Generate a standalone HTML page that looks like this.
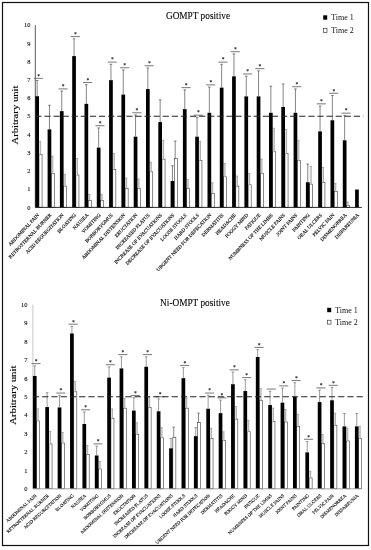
<!DOCTYPE html>
<html><head><meta charset="utf-8"><title>Figure</title>
<style>html,body{margin:0;padding:0;background:#fff}svg{display:block}text{font-family:"Liberation Serif",serif}</style>
</head><body>
<svg width="371" height="550" viewBox="0 0 371 550">
<rect x="0" y="0" width="371" height="550" fill="#fff"/>
<rect x="2.5" y="2.5" width="366" height="543" fill="none" stroke="#111" stroke-width="1.2"/>
<g>
<text x="30.6" y="209.6" font-size="6.5" text-anchor="end" fill="#000" stroke="#000" stroke-width="0.08">0</text>
<text x="30.6" y="191.37" font-size="6.5" text-anchor="end" fill="#000" stroke="#000" stroke-width="0.08">1</text>
<text x="30.6" y="173.14" font-size="6.5" text-anchor="end" fill="#000" stroke="#000" stroke-width="0.08">2</text>
<text x="30.6" y="154.91" font-size="6.5" text-anchor="end" fill="#000" stroke="#000" stroke-width="0.08">3</text>
<text x="30.6" y="136.68" font-size="6.5" text-anchor="end" fill="#000" stroke="#000" stroke-width="0.08">4</text>
<text x="30.6" y="118.45" font-size="6.5" text-anchor="end" fill="#000" stroke="#000" stroke-width="0.08">5</text>
<text x="30.6" y="100.22" font-size="6.5" text-anchor="end" fill="#000" stroke="#000" stroke-width="0.08">6</text>
<text x="30.6" y="81.99" font-size="6.5" text-anchor="end" fill="#000" stroke="#000" stroke-width="0.08">7</text>
<text x="30.6" y="63.76" font-size="6.5" text-anchor="end" fill="#000" stroke="#000" stroke-width="0.08">8</text>
<text x="30.6" y="45.53" font-size="6.5" text-anchor="end" fill="#000" stroke="#000" stroke-width="0.08">9</text>
<text x="30.6" y="27.3" font-size="6.5" text-anchor="end" fill="#000" stroke="#000" stroke-width="0.08">10</text>
<text transform="translate(18.3 115) rotate(-90) scale(1.19 1)" font-size="9" text-anchor="middle" fill="#000" stroke="#000" stroke-width="0.12">Arbitrary unit</text>
<text x="198" y="19.2" font-size="9.3" text-anchor="middle" fill="#000" stroke="#000" stroke-width="0.08">GOMPT positive</text>
<rect x="323.2" y="15.3" width="4" height="4.4" fill="#000"/>
<text x="331.2" y="20.1" font-size="8" fill="#111">Time 1</text>
<rect x="323.5" y="28.4" width="3.5" height="3.9" fill="#fff" stroke="#222" stroke-width="0.6"/>
<text x="331.2" y="33" font-size="8" fill="#111">Time 2</text>
<line x1="35.3" y1="25.1" x2="35.3" y2="207.4" stroke="#333" stroke-width="0.8"/>
<rect x="39" y="154.35" width="3.05" height="53.05" fill="#fff" stroke="#2a2a2a" stroke-width="0.55"/>
<rect x="39.1" y="141.59" width="1.6" height="12.76" fill="#dadada"/>
<path d="M40.6 154.35V141.59M38.8 141.59H41.4" stroke="#777" stroke-width="0.5" fill="none"/>
<rect x="35.3" y="96.2" width="3.7" height="111.2" fill="#000"/>
<path d="M37.15 96.2V80.53M35.85 80.53H38.45" stroke="#505050" stroke-width="0.7" fill="none"/>
<line x1="33.9" y1="78.33" x2="43" y2="78.33" stroke="#555" stroke-width="0.8"/>
<text x="38.6" y="77.63" font-size="5.6" text-anchor="middle" fill="#111" font-weight="bold">*</text>
<rect x="51.3" y="173.67" width="3.05" height="33.73" fill="#fff" stroke="#2a2a2a" stroke-width="0.55"/>
<rect x="51.4" y="156.17" width="1.6" height="17.5" fill="#dadada"/>
<path d="M52.9 173.67V156.17M51.1 156.17H53.7" stroke="#777" stroke-width="0.5" fill="none"/>
<rect x="47.6" y="129.38" width="3.7" height="78.02" fill="#000"/>
<path d="M49.45 129.38V105.31M48.15 105.31H50.75" stroke="#505050" stroke-width="0.7" fill="none"/>
<rect x="63.6" y="186.07" width="3.05" height="21.33" fill="#fff" stroke="#2a2a2a" stroke-width="0.55"/>
<rect x="63.7" y="174.4" width="1.6" height="11.67" fill="#dadada"/>
<path d="M65.2 186.07V174.4M63.4 174.4H66" stroke="#777" stroke-width="0.5" fill="none"/>
<rect x="59.9" y="111.15" width="3.7" height="96.25" fill="#000"/>
<path d="M61.75 111.15V91.11M60.45 91.11H63.05" stroke="#505050" stroke-width="0.7" fill="none"/>
<line x1="58.5" y1="88.91" x2="67.6" y2="88.91" stroke="#555" stroke-width="0.8"/>
<text x="63.2" y="88.2" font-size="5.6" text-anchor="middle" fill="#111" font-weight="bold">*</text>
<rect x="75.9" y="174.95" width="3.05" height="32.45" fill="#fff" stroke="#2a2a2a" stroke-width="0.55"/>
<rect x="76" y="158.54" width="1.6" height="16.41" fill="#dadada"/>
<path d="M77.5 174.95V158.54M75.7 158.54H78.3" stroke="#777" stroke-width="0.5" fill="none"/>
<rect x="72.2" y="56.09" width="3.7" height="151.31" fill="#000"/>
<path d="M74.05 56.09V38.78M72.75 38.78H75.35" stroke="#505050" stroke-width="0.7" fill="none"/>
<line x1="70.8" y1="36.58" x2="79.9" y2="36.58" stroke="#555" stroke-width="0.8"/>
<text x="75.5" y="35.88" font-size="5.6" text-anchor="middle" fill="#111" font-weight="bold">*</text>
<rect x="88.2" y="200.29" width="3.05" height="7.11" fill="#fff" stroke="#2a2a2a" stroke-width="0.55"/>
<rect x="88.3" y="194.46" width="1.6" height="5.83" fill="#dadada"/>
<path d="M89.8 200.29V194.46M88 194.46H90.6" stroke="#777" stroke-width="0.5" fill="none"/>
<rect x="84.5" y="103.85" width="3.7" height="103.55" fill="#000"/>
<path d="M86.35 103.85V84.72M85.05 84.72H87.65" stroke="#505050" stroke-width="0.7" fill="none"/>
<line x1="83.1" y1="82.52" x2="92.2" y2="82.52" stroke="#555" stroke-width="0.8"/>
<text x="87.8" y="81.82" font-size="5.6" text-anchor="middle" fill="#111" font-weight="bold">*</text>
<rect x="100.5" y="200.29" width="3.05" height="7.11" fill="#fff" stroke="#2a2a2a" stroke-width="0.55"/>
<rect x="100.6" y="194.46" width="1.6" height="5.83" fill="#dadada"/>
<path d="M102.1 200.29V194.46M100.3 194.46H102.9" stroke="#777" stroke-width="0.5" fill="none"/>
<rect x="96.8" y="147.61" width="3.7" height="59.79" fill="#000"/>
<path d="M98.65 147.61V127.93M97.35 127.93H99.95" stroke="#505050" stroke-width="0.7" fill="none"/>
<line x1="95.4" y1="125.73" x2="104.5" y2="125.73" stroke="#555" stroke-width="0.8"/>
<text x="100.1" y="125.03" font-size="5.6" text-anchor="middle" fill="#111" font-weight="bold">*</text>
<rect x="112.8" y="169.48" width="3.05" height="37.92" fill="#fff" stroke="#2a2a2a" stroke-width="0.55"/>
<rect x="112.9" y="153.62" width="1.6" height="15.86" fill="#dadada"/>
<path d="M114.4 169.48V153.62M112.6 153.62H115.2" stroke="#777" stroke-width="0.5" fill="none"/>
<rect x="109.1" y="80.15" width="3.7" height="127.25" fill="#000"/>
<path d="M110.95 80.15V64.31M109.65 64.31H112.25" stroke="#505050" stroke-width="0.7" fill="none"/>
<line x1="107.7" y1="62.11" x2="116.8" y2="62.11" stroke="#555" stroke-width="0.8"/>
<text x="112.4" y="61.41" font-size="5.6" text-anchor="middle" fill="#111" font-weight="bold">*</text>
<rect x="125.1" y="188.26" width="3.05" height="19.14" fill="#fff" stroke="#2a2a2a" stroke-width="0.55"/>
<rect x="125.2" y="178.05" width="1.6" height="10.21" fill="#dadada"/>
<path d="M126.7 188.26V178.05M124.9 178.05H127.5" stroke="#777" stroke-width="0.5" fill="none"/>
<rect x="121.4" y="94.56" width="3.7" height="112.84" fill="#000"/>
<path d="M123.25 94.56V69.96M121.95 69.96H124.55" stroke="#505050" stroke-width="0.7" fill="none"/>
<line x1="120" y1="67.76" x2="129.1" y2="67.76" stroke="#555" stroke-width="0.8"/>
<text x="124.7" y="67.06" font-size="5.6" text-anchor="middle" fill="#111" font-weight="bold">*</text>
<rect x="137.4" y="188.26" width="3.05" height="19.14" fill="#fff" stroke="#2a2a2a" stroke-width="0.55"/>
<rect x="137.5" y="179.14" width="1.6" height="9.12" fill="#dadada"/>
<path d="M139 188.26V179.14M137.2 179.14H139.8" stroke="#777" stroke-width="0.5" fill="none"/>
<rect x="133.7" y="136.67" width="3.7" height="70.73" fill="#000"/>
<path d="M135.55 136.67V114.99M134.25 114.99H136.85" stroke="#505050" stroke-width="0.7" fill="none"/>
<line x1="132.3" y1="112.79" x2="141.4" y2="112.79" stroke="#555" stroke-width="0.8"/>
<text x="137" y="112.09" font-size="5.6" text-anchor="middle" fill="#111" font-weight="bold">*</text>
<rect x="149.7" y="171.85" width="3.05" height="35.55" fill="#fff" stroke="#2a2a2a" stroke-width="0.55"/>
<rect x="149.8" y="162.19" width="1.6" height="9.66" fill="#dadada"/>
<path d="M151.3 171.85V162.19M149.5 162.19H152.1" stroke="#777" stroke-width="0.5" fill="none"/>
<rect x="146" y="89.09" width="3.7" height="118.31" fill="#000"/>
<path d="M147.85 89.09V67.95M146.55 67.95H149.15" stroke="#505050" stroke-width="0.7" fill="none"/>
<line x1="144.6" y1="65.75" x2="153.7" y2="65.75" stroke="#555" stroke-width="0.8"/>
<text x="149.3" y="65.05" font-size="5.6" text-anchor="middle" fill="#111" font-weight="bold">*</text>
<rect x="162" y="159.09" width="3.05" height="48.31" fill="#fff" stroke="#2a2a2a" stroke-width="0.55"/>
<rect x="162.1" y="140.31" width="1.6" height="18.78" fill="#dadada"/>
<path d="M163.6 159.09V140.31M161.8 140.31H164.4" stroke="#777" stroke-width="0.5" fill="none"/>
<rect x="158.3" y="122.08" width="3.7" height="85.32" fill="#000"/>
<path d="M160.15 122.08V99.84M158.85 99.84H161.45" stroke="#505050" stroke-width="0.7" fill="none"/>
<rect x="174.3" y="158.54" width="3.05" height="48.86" fill="#fff" stroke="#2a2a2a" stroke-width="0.55"/>
<path d="M175.2 158.54V141.04M173.9 141.04H176.5" stroke="#555" stroke-width="0.7" fill="none"/>
<rect x="170.6" y="180.97" width="3.7" height="26.43" fill="#000"/>
<path d="M172.45 180.97V165.84M171.15 165.84H173.75" stroke="#505050" stroke-width="0.7" fill="none"/>
<rect x="186.6" y="188.26" width="3.05" height="19.14" fill="#fff" stroke="#2a2a2a" stroke-width="0.55"/>
<rect x="186.7" y="179.69" width="1.6" height="8.57" fill="#dadada"/>
<path d="M188.2 188.26V179.69M186.4 179.69H189" stroke="#777" stroke-width="0.5" fill="none"/>
<rect x="182.9" y="109.14" width="3.7" height="98.26" fill="#000"/>
<path d="M184.75 109.14V89.83M183.45 89.83H186.05" stroke="#505050" stroke-width="0.7" fill="none"/>
<line x1="181.5" y1="87.63" x2="190.6" y2="87.63" stroke="#555" stroke-width="0.8"/>
<text x="186.2" y="86.93" font-size="5.6" text-anchor="middle" fill="#111" font-weight="bold">*</text>
<rect x="198.9" y="160.55" width="3.05" height="46.85" fill="#fff" stroke="#2a2a2a" stroke-width="0.55"/>
<rect x="199" y="141.59" width="1.6" height="18.96" fill="#dadada"/>
<path d="M200.5 160.55V141.59M198.7 141.59H201.3" stroke="#777" stroke-width="0.5" fill="none"/>
<rect x="195.2" y="136.67" width="3.7" height="70.73" fill="#000"/>
<path d="M197.05 136.67V117.36M195.75 117.36H198.35" stroke="#505050" stroke-width="0.7" fill="none"/>
<line x1="193.8" y1="115.16" x2="202.9" y2="115.16" stroke="#555" stroke-width="0.8"/>
<text x="198.5" y="114.46" font-size="5.6" text-anchor="middle" fill="#111" font-weight="bold">*</text>
<rect x="211.2" y="193.36" width="3.05" height="14.04" fill="#fff" stroke="#2a2a2a" stroke-width="0.55"/>
<rect x="211.3" y="182.79" width="1.6" height="10.57" fill="#dadada"/>
<path d="M212.8 193.36V182.79M211 182.79H213.6" stroke="#777" stroke-width="0.5" fill="none"/>
<rect x="207.5" y="112.79" width="3.7" height="94.61" fill="#000"/>
<path d="M209.35 112.79V87.09M208.05 87.09H210.65" stroke="#505050" stroke-width="0.7" fill="none"/>
<line x1="206.1" y1="84.89" x2="215.2" y2="84.89" stroke="#555" stroke-width="0.8"/>
<text x="210.8" y="84.19" font-size="5.6" text-anchor="middle" fill="#111" font-weight="bold">*</text>
<rect x="223.5" y="176.77" width="3.05" height="30.63" fill="#fff" stroke="#2a2a2a" stroke-width="0.55"/>
<rect x="223.6" y="163.47" width="1.6" height="13.31" fill="#dadada"/>
<path d="M225.1 176.77V163.47M223.3 163.47H225.9" stroke="#777" stroke-width="0.5" fill="none"/>
<rect x="219.8" y="87.63" width="3.7" height="119.77" fill="#000"/>
<path d="M221.65 87.63V64.31M220.35 64.31H222.95" stroke="#505050" stroke-width="0.7" fill="none"/>
<line x1="218.4" y1="62.11" x2="227.5" y2="62.11" stroke="#555" stroke-width="0.8"/>
<text x="223.1" y="61.41" font-size="5.6" text-anchor="middle" fill="#111" font-weight="bold">*</text>
<rect x="235.8" y="186.07" width="3.05" height="21.33" fill="#fff" stroke="#2a2a2a" stroke-width="0.55"/>
<rect x="235.9" y="176.04" width="1.6" height="10.03" fill="#dadada"/>
<path d="M237.4 186.07V176.04M235.6 176.04H238.2" stroke="#777" stroke-width="0.5" fill="none"/>
<rect x="232.1" y="76.33" width="3.7" height="131.07" fill="#000"/>
<path d="M233.95 76.33V53.92M232.65 53.92H235.25" stroke="#505050" stroke-width="0.7" fill="none"/>
<line x1="230.7" y1="51.72" x2="239.8" y2="51.72" stroke="#555" stroke-width="0.8"/>
<text x="235.4" y="51.02" font-size="5.6" text-anchor="middle" fill="#111" font-weight="bold">*</text>
<rect x="248.1" y="184.79" width="3.05" height="22.61" fill="#fff" stroke="#2a2a2a" stroke-width="0.55"/>
<rect x="248.2" y="173.67" width="1.6" height="11.12" fill="#dadada"/>
<path d="M249.7 184.79V173.67M247.9 173.67H250.5" stroke="#777" stroke-width="0.5" fill="none"/>
<rect x="244.4" y="96.38" width="3.7" height="111.02" fill="#000"/>
<path d="M246.25 96.38V76.16M244.95 76.16H247.55" stroke="#505050" stroke-width="0.7" fill="none"/>
<line x1="243" y1="73.96" x2="252.1" y2="73.96" stroke="#555" stroke-width="0.8"/>
<text x="247.7" y="73.26" font-size="5.6" text-anchor="middle" fill="#111" font-weight="bold">*</text>
<rect x="260.4" y="173.67" width="3.05" height="33.73" fill="#fff" stroke="#2a2a2a" stroke-width="0.55"/>
<rect x="260.5" y="159.09" width="1.6" height="14.58" fill="#dadada"/>
<path d="M262 173.67V159.09M260.2 159.09H262.8" stroke="#777" stroke-width="0.5" fill="none"/>
<rect x="256.7" y="96.38" width="3.7" height="111.02" fill="#000"/>
<path d="M258.55 96.38V70.87M257.25 70.87H259.85" stroke="#505050" stroke-width="0.7" fill="none"/>
<line x1="255.3" y1="68.67" x2="264.4" y2="68.67" stroke="#555" stroke-width="0.8"/>
<text x="260" y="67.97" font-size="5.6" text-anchor="middle" fill="#111" font-weight="bold">*</text>
<rect x="272.7" y="151.8" width="3.05" height="55.6" fill="#fff" stroke="#2a2a2a" stroke-width="0.55"/>
<rect x="272.8" y="128.28" width="1.6" height="23.52" fill="#dadada"/>
<path d="M274.3 151.8V128.28M272.5 128.28H275.1" stroke="#777" stroke-width="0.5" fill="none"/>
<rect x="269" y="112.79" width="3.7" height="94.61" fill="#000"/>
<path d="M270.85 112.79V86.17M269.55 86.17H272.15" stroke="#505050" stroke-width="0.7" fill="none"/>
<rect x="285" y="153.62" width="3.05" height="53.78" fill="#fff" stroke="#2a2a2a" stroke-width="0.55"/>
<rect x="285.1" y="129.38" width="1.6" height="24.25" fill="#dadada"/>
<path d="M286.6 153.62V129.38M284.8 129.38H287.4" stroke="#777" stroke-width="0.5" fill="none"/>
<rect x="281.3" y="106.95" width="3.7" height="100.45" fill="#000"/>
<path d="M283.15 106.95V83.98M281.85 83.98H284.45" stroke="#505050" stroke-width="0.7" fill="none"/>
<rect x="297.3" y="160.55" width="3.05" height="46.85" fill="#fff" stroke="#2a2a2a" stroke-width="0.55"/>
<rect x="297.4" y="140.31" width="1.6" height="20.24" fill="#dadada"/>
<path d="M298.9 160.55V140.31M297.1 140.31H299.7" stroke="#777" stroke-width="0.5" fill="none"/>
<rect x="293.6" y="112.79" width="3.7" height="94.61" fill="#000"/>
<path d="M295.45 112.79V88.92M294.15 88.92H296.75" stroke="#505050" stroke-width="0.7" fill="none"/>
<line x1="292.2" y1="86.72" x2="301.3" y2="86.72" stroke="#555" stroke-width="0.8"/>
<text x="296.9" y="86.02" font-size="5.6" text-anchor="middle" fill="#111" font-weight="bold">*</text>
<rect x="309.6" y="184.07" width="3.05" height="23.33" fill="#fff" stroke="#2a2a2a" stroke-width="0.55"/>
<rect x="309.7" y="166.38" width="1.6" height="17.68" fill="#dadada"/>
<path d="M311.2 184.07V166.38M309.4 166.38H312" stroke="#777" stroke-width="0.5" fill="none"/>
<rect x="305.9" y="182.24" width="3.7" height="25.16" fill="#000"/>
<path d="M307.75 182.24V164.01M306.45 164.01H309.05" stroke="#505050" stroke-width="0.7" fill="none"/>
<rect x="321.9" y="182.24" width="3.05" height="25.16" fill="#fff" stroke="#2a2a2a" stroke-width="0.55"/>
<rect x="322" y="167.48" width="1.6" height="14.77" fill="#dadada"/>
<path d="M323.5 182.24V167.48M321.7 167.48H324.3" stroke="#777" stroke-width="0.5" fill="none"/>
<rect x="318.2" y="131.38" width="3.7" height="76.02" fill="#000"/>
<path d="M320.05 131.38V106.05M318.75 106.05H321.35" stroke="#505050" stroke-width="0.7" fill="none"/>
<line x1="316.8" y1="103.85" x2="325.9" y2="103.85" stroke="#555" stroke-width="0.8"/>
<text x="321.5" y="103.15" font-size="5.6" text-anchor="middle" fill="#111" font-weight="bold">*</text>
<rect x="334.2" y="191.36" width="3.05" height="16.04" fill="#fff" stroke="#2a2a2a" stroke-width="0.55"/>
<rect x="334.3" y="183.52" width="1.6" height="7.84" fill="#dadada"/>
<path d="M335.8 191.36V183.52M334 183.52H336.6" stroke="#777" stroke-width="0.5" fill="none"/>
<rect x="330.5" y="120.26" width="3.7" height="87.14" fill="#000"/>
<path d="M332.35 120.26V95.48M331.05 95.48H333.65" stroke="#505050" stroke-width="0.7" fill="none"/>
<line x1="329.1" y1="93.28" x2="338.2" y2="93.28" stroke="#555" stroke-width="0.8"/>
<text x="333.8" y="92.58" font-size="5.6" text-anchor="middle" fill="#111" font-weight="bold">*</text>
<rect x="346.5" y="205.58" width="3.05" height="1.82" fill="#fff" stroke="#2a2a2a" stroke-width="0.55"/>
<rect x="346.6" y="201.93" width="1.6" height="3.65" fill="#dadada"/>
<path d="M348.1 205.58V201.93M346.3 201.93H348.9" stroke="#777" stroke-width="0.5" fill="none"/>
<rect x="342.8" y="140.31" width="3.7" height="67.09" fill="#000"/>
<path d="M344.65 140.31V115.35M343.35 115.35H345.95" stroke="#505050" stroke-width="0.7" fill="none"/>
<line x1="341.4" y1="113.15" x2="350.5" y2="113.15" stroke="#555" stroke-width="0.8"/>
<text x="346.1" y="112.45" font-size="5.6" text-anchor="middle" fill="#111" font-weight="bold">*</text>
<rect x="355.1" y="189.53" width="3.7" height="17.87" fill="#000"/>
<line x1="35.3" y1="207.4" x2="361.8" y2="207.4" stroke="#111" stroke-width="0.9"/>
<line x1="35.3" y1="116.25" x2="363.3" y2="116.25" stroke="#222" stroke-width="1.1" stroke-dasharray="6.2 2.9"/>
<text transform="translate(39.4 215.4) scale(1 1.06) rotate(-45)" font-size="4.84" text-anchor="end" fill="#000" stroke="#000" stroke-width="0.12">ABDOMINAL PAIN</text>
<text transform="translate(51.7 215.4) scale(1 1.06) rotate(-45)" font-size="4.84" text-anchor="end" fill="#000" stroke="#000" stroke-width="0.12">RETROSTERNAL BURNER</text>
<text transform="translate(64 215.4) scale(1 1.06) rotate(-45)" font-size="4.84" text-anchor="end" fill="#000" stroke="#000" stroke-width="0.12">ACID REGURGITATION</text>
<text transform="translate(76.3 215.4) scale(1 1.06) rotate(-45)" font-size="4.84" text-anchor="end" fill="#000" stroke="#000" stroke-width="0.12">BLOATING</text>
<text transform="translate(88.6 215.4) scale(1 1.06) rotate(-45)" font-size="4.84" text-anchor="end" fill="#000" stroke="#000" stroke-width="0.12">NAUSEA</text>
<text transform="translate(100.9 215.4) scale(1 1.06) rotate(-45)" font-size="4.84" text-anchor="end" fill="#000" stroke="#000" stroke-width="0.12">VOMITING</text>
<text transform="translate(113.2 215.4) scale(1 1.06) rotate(-45)" font-size="4.84" text-anchor="end" fill="#000" stroke="#000" stroke-width="0.12">BORBORYGMUS</text>
<text transform="translate(125.5 215.4) scale(1 1.06) rotate(-45)" font-size="4.84" text-anchor="end" fill="#000" stroke="#000" stroke-width="0.12">ABDOMINAL DISTENSION</text>
<text transform="translate(137.8 215.4) scale(1 1.06) rotate(-45)" font-size="4.84" text-anchor="end" fill="#000" stroke="#000" stroke-width="0.12">ERUCTATION</text>
<text transform="translate(150.1 215.4) scale(1 1.06) rotate(-45)" font-size="4.84" text-anchor="end" fill="#000" stroke="#000" stroke-width="0.12">INCREASED FLATUS</text>
<text transform="translate(162.4 215.4) scale(1 1.06) rotate(-45)" font-size="4.84" text-anchor="end" fill="#000" stroke="#000" stroke-width="0.12">INCREASE OF EVACUATIONS</text>
<text transform="translate(174.7 215.4) scale(1 1.06) rotate(-45)" font-size="4.84" text-anchor="end" fill="#000" stroke="#000" stroke-width="0.12">DECREASE OF EVACUATIONS</text>
<text transform="translate(187 215.4) scale(1 1.06) rotate(-45)" font-size="4.84" text-anchor="end" fill="#000" stroke="#000" stroke-width="0.12">LOOSE STOOLS</text>
<text transform="translate(199.3 215.4) scale(1 1.06) rotate(-45)" font-size="4.84" text-anchor="end" fill="#000" stroke="#000" stroke-width="0.12">HARD STOOLS</text>
<text transform="translate(211.6 215.4) scale(1 1.06) rotate(-45)" font-size="4.84" text-anchor="end" fill="#000" stroke="#000" stroke-width="0.12">URGENT NEED FOR DEFECATION</text>
<text transform="translate(223.9 215.4) scale(1 1.06) rotate(-45)" font-size="4.84" text-anchor="end" fill="#000" stroke="#000" stroke-width="0.12">DERMATITIS</text>
<text transform="translate(236.2 215.4) scale(1 1.06) rotate(-45)" font-size="4.84" text-anchor="end" fill="#000" stroke="#000" stroke-width="0.12">HEADACHE</text>
<text transform="translate(248.5 215.4) scale(1 1.06) rotate(-45)" font-size="4.84" text-anchor="end" fill="#000" stroke="#000" stroke-width="0.12">FOGGY MIND</text>
<text transform="translate(260.8 215.4) scale(1 1.06) rotate(-45)" font-size="4.84" text-anchor="end" fill="#000" stroke="#000" stroke-width="0.12">FATIGUE</text>
<text transform="translate(273.1 215.4) scale(1 1.06) rotate(-45)" font-size="4.84" text-anchor="end" fill="#000" stroke="#000" stroke-width="0.12">NUMBNESS OF THE LIMBS</text>
<text transform="translate(285.4 215.4) scale(1 1.06) rotate(-45)" font-size="4.84" text-anchor="end" fill="#000" stroke="#000" stroke-width="0.12">MUSCLE PAINS</text>
<text transform="translate(297.7 215.4) scale(1 1.06) rotate(-45)" font-size="4.84" text-anchor="end" fill="#000" stroke="#000" stroke-width="0.12">JOINT PAINS</text>
<text transform="translate(310 215.4) scale(1 1.06) rotate(-45)" font-size="4.84" text-anchor="end" fill="#000" stroke="#000" stroke-width="0.12">FAINTING</text>
<text transform="translate(322.3 215.4) scale(1 1.06) rotate(-45)" font-size="4.84" text-anchor="end" fill="#000" stroke="#000" stroke-width="0.12">ORAL ULCERS</text>
<text transform="translate(334.6 215.4) scale(1 1.06) rotate(-45)" font-size="4.84" text-anchor="end" fill="#000" stroke="#000" stroke-width="0.12">PELVIC PAIN</text>
<text transform="translate(346.9 215.4) scale(1 1.06) rotate(-45)" font-size="4.84" text-anchor="end" fill="#000" stroke="#000" stroke-width="0.12">DISMENORREA</text>
<text transform="translate(359.2 215.4) scale(1 1.06) rotate(-45)" font-size="4.84" text-anchor="end" fill="#000" stroke="#000" stroke-width="0.12">DISPAREUNIA</text>
</g>
<g>
<text x="27.6" y="491" font-size="6.5" text-anchor="end" fill="#000" stroke="#000" stroke-width="0.08">0</text>
<text x="27.6" y="472.59" font-size="6.5" text-anchor="end" fill="#000" stroke="#000" stroke-width="0.08">1</text>
<text x="27.6" y="454.18" font-size="6.5" text-anchor="end" fill="#000" stroke="#000" stroke-width="0.08">2</text>
<text x="27.6" y="435.77" font-size="6.5" text-anchor="end" fill="#000" stroke="#000" stroke-width="0.08">3</text>
<text x="27.6" y="417.36" font-size="6.5" text-anchor="end" fill="#000" stroke="#000" stroke-width="0.08">4</text>
<text x="27.6" y="398.95" font-size="6.5" text-anchor="end" fill="#000" stroke="#000" stroke-width="0.08">5</text>
<text x="27.6" y="380.54" font-size="6.5" text-anchor="end" fill="#000" stroke="#000" stroke-width="0.08">6</text>
<text x="27.6" y="362.13" font-size="6.5" text-anchor="end" fill="#000" stroke="#000" stroke-width="0.08">7</text>
<text x="27.6" y="343.72" font-size="6.5" text-anchor="end" fill="#000" stroke="#000" stroke-width="0.08">8</text>
<text x="27.6" y="325.31" font-size="6.5" text-anchor="end" fill="#000" stroke="#000" stroke-width="0.08">9</text>
<text x="27.6" y="306.9" font-size="6.5" text-anchor="end" fill="#000" stroke="#000" stroke-width="0.08">10</text>
<text transform="translate(15.9 395.2) rotate(-90) scale(1.19 1)" font-size="9" text-anchor="middle" fill="#000" stroke="#000" stroke-width="0.12">Arbitrary unit</text>
<text x="195" y="306.4" font-size="9.3" text-anchor="middle" fill="#000" stroke="#000" stroke-width="0.08">Ni-OMPT positive</text>
<rect x="327.2" y="307.8" width="4" height="4.4" fill="#000"/>
<text x="335.2" y="312.6" font-size="8" fill="#111">Time 1</text>
<rect x="327.5" y="320.2" width="3.5" height="3.9" fill="#fff" stroke="#222" stroke-width="0.6"/>
<text x="335.2" y="324.8" font-size="8" fill="#111">Time 2</text>
<line x1="32.9" y1="304.7" x2="32.9" y2="488.8" stroke="#bbb" stroke-width="0.8"/>
<rect x="36.6" y="420.87" width="3.05" height="67.93" fill="#fff" stroke="#2a2a2a" stroke-width="0.55"/>
<rect x="36.7" y="408.9" width="1.6" height="11.97" fill="#dadada"/>
<path d="M38.2 420.87V408.9M36.4 408.9H39" stroke="#777" stroke-width="0.5" fill="none"/>
<rect x="32.9" y="375.95" width="3.7" height="112.85" fill="#000"/>
<path d="M34.75 375.95V365.81M33.45 365.81H36.05" stroke="#707070" stroke-width="0.7" fill="none"/>
<line x1="31.5" y1="363.61" x2="40.6" y2="363.61" stroke="#555" stroke-width="0.8"/>
<text x="36.2" y="362.91" font-size="5.6" text-anchor="middle" fill="#111" font-weight="bold">*</text>
<rect x="48.98" y="443.88" width="3.05" height="44.92" fill="#fff" stroke="#2a2a2a" stroke-width="0.55"/>
<rect x="49.09" y="431.36" width="1.6" height="12.52" fill="#dadada"/>
<path d="M50.59 443.88V431.36M48.78 431.36H51.38" stroke="#777" stroke-width="0.5" fill="none"/>
<rect x="45.28" y="407.06" width="3.7" height="81.74" fill="#000"/>
<path d="M47.13 407.06V392.7M45.84 392.7H48.43" stroke="#707070" stroke-width="0.7" fill="none"/>
<rect x="61.37" y="442.96" width="3.05" height="45.84" fill="#fff" stroke="#2a2a2a" stroke-width="0.55"/>
<rect x="61.47" y="432.47" width="1.6" height="10.49" fill="#dadada"/>
<path d="M62.97 442.96V432.47M61.17 432.47H63.77" stroke="#777" stroke-width="0.5" fill="none"/>
<rect x="57.67" y="407.43" width="3.7" height="81.37" fill="#000"/>
<path d="M59.52 407.43V395.27M58.22 395.27H60.82" stroke="#707070" stroke-width="0.7" fill="none"/>
<line x1="56.27" y1="393.07" x2="65.37" y2="393.07" stroke="#555" stroke-width="0.8"/>
<text x="60.97" y="392.37" font-size="5.6" text-anchor="middle" fill="#111" font-weight="bold">*</text>
<rect x="73.76" y="391.78" width="3.05" height="97.02" fill="#fff" stroke="#2a2a2a" stroke-width="0.55"/>
<rect x="73.86" y="381.29" width="1.6" height="10.49" fill="#dadada"/>
<path d="M75.36 391.78V381.29M73.56 381.29H76.16" stroke="#777" stroke-width="0.5" fill="none"/>
<rect x="70.06" y="333.42" width="3.7" height="155.38" fill="#000"/>
<path d="M71.91 333.42V326.41M70.61 326.41H73.2" stroke="#707070" stroke-width="0.7" fill="none"/>
<line x1="68.66" y1="324.21" x2="77.76" y2="324.21" stroke="#555" stroke-width="0.8"/>
<text x="73.36" y="323.51" font-size="5.6" text-anchor="middle" fill="#111" font-weight="bold">*</text>
<rect x="86.14" y="454.37" width="3.05" height="34.43" fill="#fff" stroke="#2a2a2a" stroke-width="0.55"/>
<rect x="86.24" y="445.35" width="1.6" height="9.02" fill="#dadada"/>
<path d="M87.74 454.37V445.35M85.94 445.35H88.54" stroke="#777" stroke-width="0.5" fill="none"/>
<rect x="82.44" y="424" width="3.7" height="64.8" fill="#000"/>
<path d="M84.29 424V412.02M82.99 412.02H85.59" stroke="#707070" stroke-width="0.7" fill="none"/>
<line x1="81.04" y1="409.82" x2="90.14" y2="409.82" stroke="#555" stroke-width="0.8"/>
<text x="85.74" y="409.12" font-size="5.6" text-anchor="middle" fill="#111" font-weight="bold">*</text>
<rect x="98.52" y="468.92" width="3.05" height="19.88" fill="#fff" stroke="#2a2a2a" stroke-width="0.55"/>
<rect x="98.62" y="461.55" width="1.6" height="7.36" fill="#dadada"/>
<path d="M100.12 468.92V461.55M98.32 461.55H100.92" stroke="#777" stroke-width="0.5" fill="none"/>
<rect x="94.82" y="455.48" width="3.7" height="33.32" fill="#000"/>
<path d="M96.67 455.48V446.08M95.37 446.08H97.97" stroke="#707070" stroke-width="0.7" fill="none"/>
<line x1="93.42" y1="443.88" x2="102.52" y2="443.88" stroke="#555" stroke-width="0.8"/>
<text x="98.12" y="443.18" font-size="5.6" text-anchor="middle" fill="#111" font-weight="bold">*</text>
<rect x="110.91" y="418.66" width="3.05" height="70.14" fill="#fff" stroke="#2a2a2a" stroke-width="0.55"/>
<rect x="111.01" y="408.9" width="1.6" height="9.76" fill="#dadada"/>
<path d="M112.51 418.66V408.9M110.71 408.9H113.31" stroke="#777" stroke-width="0.5" fill="none"/>
<rect x="107.21" y="377.6" width="3.7" height="111.2" fill="#000"/>
<path d="M109.06 377.6V366.92M107.76 366.92H110.36" stroke="#707070" stroke-width="0.7" fill="none"/>
<line x1="105.81" y1="364.72" x2="114.91" y2="364.72" stroke="#555" stroke-width="0.8"/>
<text x="110.51" y="364.02" font-size="5.6" text-anchor="middle" fill="#111" font-weight="bold">*</text>
<rect x="123.3" y="408.16" width="3.05" height="80.64" fill="#fff" stroke="#2a2a2a" stroke-width="0.55"/>
<rect x="123.39" y="398.59" width="1.6" height="9.57" fill="#dadada"/>
<path d="M124.89 408.16V398.59M123.09 398.59H125.7" stroke="#777" stroke-width="0.5" fill="none"/>
<rect x="119.59" y="368.4" width="3.7" height="120.4" fill="#000"/>
<path d="M121.44 368.4V356.79M120.14 356.79H122.74" stroke="#707070" stroke-width="0.7" fill="none"/>
<line x1="118.19" y1="354.59" x2="127.3" y2="354.59" stroke="#555" stroke-width="0.8"/>
<text x="122.89" y="353.89" font-size="5.6" text-anchor="middle" fill="#111" font-weight="bold">*</text>
<rect x="135.68" y="434.49" width="3.05" height="54.31" fill="#fff" stroke="#2a2a2a" stroke-width="0.55"/>
<rect x="135.78" y="422.71" width="1.6" height="11.78" fill="#dadada"/>
<path d="M137.28 434.49V422.71M135.48 422.71H138.08" stroke="#777" stroke-width="0.5" fill="none"/>
<rect x="131.98" y="410.56" width="3.7" height="78.24" fill="#000"/>
<path d="M133.83 410.56V397.66M132.53 397.66H135.13" stroke="#707070" stroke-width="0.7" fill="none"/>
<line x1="130.58" y1="395.46" x2="139.68" y2="395.46" stroke="#555" stroke-width="0.8"/>
<text x="135.28" y="394.76" font-size="5.6" text-anchor="middle" fill="#111" font-weight="bold">*</text>
<rect x="148.06" y="407.43" width="3.05" height="81.37" fill="#fff" stroke="#2a2a2a" stroke-width="0.55"/>
<rect x="148.16" y="397.3" width="1.6" height="10.13" fill="#dadada"/>
<path d="M149.66 407.43V397.3M147.87 397.3H150.47" stroke="#777" stroke-width="0.5" fill="none"/>
<rect x="144.37" y="366.74" width="3.7" height="122.06" fill="#000"/>
<path d="M146.22 366.74V356.79M144.91 356.79H147.52" stroke="#707070" stroke-width="0.7" fill="none"/>
<line x1="142.97" y1="354.59" x2="152.06" y2="354.59" stroke="#555" stroke-width="0.8"/>
<text x="147.66" y="353.89" font-size="5.6" text-anchor="middle" fill="#111" font-weight="bold">*</text>
<rect x="160.45" y="437.8" width="3.05" height="51" fill="#fff" stroke="#2a2a2a" stroke-width="0.55"/>
<rect x="160.55" y="427.68" width="1.6" height="10.13" fill="#dadada"/>
<path d="M162.05 437.8V427.68M160.25 427.68H162.85" stroke="#777" stroke-width="0.5" fill="none"/>
<rect x="156.75" y="411.29" width="3.7" height="77.51" fill="#000"/>
<path d="M158.6 411.29V398.95M157.3 398.95H159.9" stroke="#707070" stroke-width="0.7" fill="none"/>
<line x1="155.35" y1="396.75" x2="164.45" y2="396.75" stroke="#555" stroke-width="0.8"/>
<text x="160.05" y="396.05" font-size="5.6" text-anchor="middle" fill="#111" font-weight="bold">*</text>
<rect x="172.83" y="437.25" width="3.05" height="51.55" fill="#fff" stroke="#2a2a2a" stroke-width="0.55"/>
<path d="M173.73 437.25V427.13M172.43 427.13H175.03" stroke="#555" stroke-width="0.7" fill="none"/>
<rect x="169.13" y="448.3" width="3.7" height="40.5" fill="#000"/>
<path d="M170.98 448.3V438.54M169.68 438.54H172.28" stroke="#707070" stroke-width="0.7" fill="none"/>
<rect x="185.22" y="408.16" width="3.05" height="80.64" fill="#fff" stroke="#2a2a2a" stroke-width="0.55"/>
<rect x="185.32" y="398.04" width="1.6" height="10.13" fill="#dadada"/>
<path d="M186.82 408.16V398.04M185.02 398.04H187.62" stroke="#777" stroke-width="0.5" fill="none"/>
<rect x="181.52" y="378.16" width="3.7" height="110.64" fill="#000"/>
<path d="M183.37 378.16V367.65M182.07 367.65H184.67" stroke="#707070" stroke-width="0.7" fill="none"/>
<line x1="180.12" y1="365.45" x2="189.22" y2="365.45" stroke="#555" stroke-width="0.8"/>
<text x="184.82" y="364.75" font-size="5.6" text-anchor="middle" fill="#111" font-weight="bold">*</text>
<rect x="197.6" y="422.71" width="3.05" height="66.09" fill="#fff" stroke="#2a2a2a" stroke-width="0.55"/>
<path d="M198.5 422.71V413.13M197.2 413.13H199.8" stroke="#555" stroke-width="0.7" fill="none"/>
<rect x="193.91" y="436.15" width="3.7" height="52.65" fill="#000"/>
<path d="M195.75 436.15V427.68M194.45 427.68H197.06" stroke="#707070" stroke-width="0.7" fill="none"/>
<rect x="209.99" y="438.54" width="3.05" height="50.26" fill="#fff" stroke="#2a2a2a" stroke-width="0.55"/>
<rect x="210.09" y="428.23" width="1.6" height="10.31" fill="#dadada"/>
<path d="M211.59 438.54V428.23M209.79 428.23H212.39" stroke="#777" stroke-width="0.5" fill="none"/>
<rect x="206.29" y="408.72" width="3.7" height="80.08" fill="#000"/>
<path d="M208.14 408.72V395.27M206.84 395.27H209.44" stroke="#707070" stroke-width="0.7" fill="none"/>
<line x1="204.89" y1="393.07" x2="213.99" y2="393.07" stroke="#555" stroke-width="0.8"/>
<text x="209.59" y="392.37" font-size="5.6" text-anchor="middle" fill="#111" font-weight="bold">*</text>
<rect x="222.38" y="440.57" width="3.05" height="48.23" fill="#fff" stroke="#2a2a2a" stroke-width="0.55"/>
<rect x="222.47" y="431.73" width="1.6" height="8.84" fill="#dadada"/>
<path d="M223.97 440.57V431.73M222.18 431.73H224.78" stroke="#777" stroke-width="0.5" fill="none"/>
<rect x="218.68" y="413.13" width="3.7" height="75.67" fill="#000"/>
<path d="M220.53 413.13V400.05M219.22 400.05H221.83" stroke="#707070" stroke-width="0.7" fill="none"/>
<line x1="217.28" y1="397.85" x2="226.38" y2="397.85" stroke="#555" stroke-width="0.8"/>
<text x="221.97" y="397.15" font-size="5.6" text-anchor="middle" fill="#111" font-weight="bold">*</text>
<rect x="234.76" y="419.03" width="3.05" height="69.77" fill="#fff" stroke="#2a2a2a" stroke-width="0.55"/>
<rect x="234.86" y="406.51" width="1.6" height="12.52" fill="#dadada"/>
<path d="M236.36 419.03V406.51M234.56 406.51H237.16" stroke="#777" stroke-width="0.5" fill="none"/>
<rect x="231.06" y="384.23" width="3.7" height="104.57" fill="#000"/>
<path d="M232.91 384.23V372.07M231.61 372.07H234.21" stroke="#707070" stroke-width="0.7" fill="none"/>
<line x1="229.66" y1="369.87" x2="238.76" y2="369.87" stroke="#555" stroke-width="0.8"/>
<text x="234.36" y="369.17" font-size="5.6" text-anchor="middle" fill="#111" font-weight="bold">*</text>
<rect x="247.14" y="431.73" width="3.05" height="57.07" fill="#fff" stroke="#2a2a2a" stroke-width="0.55"/>
<rect x="247.24" y="420.31" width="1.6" height="11.41" fill="#dadada"/>
<path d="M248.74 431.73V420.31M246.94 420.31H249.54" stroke="#777" stroke-width="0.5" fill="none"/>
<rect x="243.44" y="391.04" width="3.7" height="97.76" fill="#000"/>
<path d="M245.29 391.04V379.8M243.99 379.8H246.59" stroke="#707070" stroke-width="0.7" fill="none"/>
<line x1="242.04" y1="377.6" x2="251.14" y2="377.6" stroke="#555" stroke-width="0.8"/>
<text x="246.74" y="376.9" font-size="5.6" text-anchor="middle" fill="#111" font-weight="bold">*</text>
<rect x="259.53" y="400.25" width="3.05" height="88.55" fill="#fff" stroke="#2a2a2a" stroke-width="0.55"/>
<rect x="259.63" y="388.65" width="1.6" height="11.6" fill="#dadada"/>
<path d="M261.13 400.25V388.65M259.33 388.65H261.93" stroke="#777" stroke-width="0.5" fill="none"/>
<rect x="255.83" y="356.98" width="3.7" height="131.82" fill="#000"/>
<path d="M257.68 356.98V349.61M256.38 349.61H258.98" stroke="#707070" stroke-width="0.7" fill="none"/>
<line x1="254.43" y1="347.41" x2="263.53" y2="347.41" stroke="#555" stroke-width="0.8"/>
<text x="259.13" y="346.71" font-size="5.6" text-anchor="middle" fill="#111" font-weight="bold">*</text>
<rect x="271.91" y="421.6" width="3.05" height="67.2" fill="#fff" stroke="#2a2a2a" stroke-width="0.55"/>
<rect x="272.01" y="408.16" width="1.6" height="13.44" fill="#dadada"/>
<path d="M273.51 421.6V408.16M271.71 408.16H274.31" stroke="#777" stroke-width="0.5" fill="none"/>
<rect x="268.21" y="405.03" width="3.7" height="83.77" fill="#000"/>
<path d="M270.06 405.03V391.22M268.76 391.22H271.37" stroke="#707070" stroke-width="0.7" fill="none"/>
<line x1="266.81" y1="389.02" x2="275.91" y2="389.02" stroke="#555" stroke-width="0.8"/>
<rect x="284.3" y="421.97" width="3.05" height="66.83" fill="#fff" stroke="#2a2a2a" stroke-width="0.55"/>
<rect x="284.4" y="409.45" width="1.6" height="12.52" fill="#dadada"/>
<path d="M285.9 421.97V409.45M284.1 409.45H286.7" stroke="#777" stroke-width="0.5" fill="none"/>
<rect x="280.6" y="402.64" width="3.7" height="86.16" fill="#000"/>
<path d="M282.45 402.64V388.09M281.15 388.09H283.75" stroke="#707070" stroke-width="0.7" fill="none"/>
<line x1="279.2" y1="385.89" x2="288.3" y2="385.89" stroke="#555" stroke-width="0.8"/>
<text x="283.9" y="385.19" font-size="5.6" text-anchor="middle" fill="#111" font-weight="bold">*</text>
<rect x="296.68" y="426.39" width="3.05" height="62.41" fill="#fff" stroke="#2a2a2a" stroke-width="0.55"/>
<rect x="296.78" y="414.24" width="1.6" height="12.15" fill="#dadada"/>
<path d="M298.28 426.39V414.24M296.48 414.24H299.08" stroke="#777" stroke-width="0.5" fill="none"/>
<rect x="292.98" y="396.75" width="3.7" height="92.05" fill="#000"/>
<path d="M294.83 396.75V382.75M293.53 382.75H296.13" stroke="#707070" stroke-width="0.7" fill="none"/>
<line x1="291.58" y1="380.55" x2="300.68" y2="380.55" stroke="#555" stroke-width="0.8"/>
<text x="296.28" y="379.85" font-size="5.6" text-anchor="middle" fill="#111" font-weight="bold">*</text>
<rect x="309.07" y="477.94" width="3.05" height="10.86" fill="#fff" stroke="#2a2a2a" stroke-width="0.55"/>
<rect x="309.17" y="471.31" width="1.6" height="6.63" fill="#dadada"/>
<path d="M310.67 477.94V471.31M308.87 471.31H311.47" stroke="#777" stroke-width="0.5" fill="none"/>
<rect x="305.37" y="452.35" width="3.7" height="36.45" fill="#000"/>
<path d="M307.22 452.35V441.48M305.92 441.48H308.52" stroke="#707070" stroke-width="0.7" fill="none"/>
<line x1="303.97" y1="439.28" x2="313.07" y2="439.28" stroke="#555" stroke-width="0.8"/>
<text x="308.67" y="438.58" font-size="5.6" text-anchor="middle" fill="#111" font-weight="bold">*</text>
<rect x="321.45" y="443.33" width="3.05" height="45.47" fill="#fff" stroke="#2a2a2a" stroke-width="0.55"/>
<rect x="321.56" y="434.49" width="1.6" height="8.84" fill="#dadada"/>
<path d="M323.06 443.33V434.49M321.25 434.49H323.85" stroke="#777" stroke-width="0.5" fill="none"/>
<rect x="317.75" y="402.09" width="3.7" height="86.71" fill="#000"/>
<path d="M319.61 402.09V390.11M318.31 390.11H320.91" stroke="#707070" stroke-width="0.7" fill="none"/>
<line x1="316.36" y1="387.91" x2="325.45" y2="387.91" stroke="#555" stroke-width="0.8"/>
<text x="321.06" y="387.21" font-size="5.6" text-anchor="middle" fill="#111" font-weight="bold">*</text>
<rect x="333.84" y="425.65" width="3.05" height="63.15" fill="#fff" stroke="#2a2a2a" stroke-width="0.55"/>
<rect x="333.94" y="413.13" width="1.6" height="12.52" fill="#dadada"/>
<path d="M335.44 425.65V413.13M333.64 413.13H336.24" stroke="#777" stroke-width="0.5" fill="none"/>
<rect x="330.14" y="400.25" width="3.7" height="88.55" fill="#000"/>
<path d="M331.99 400.25V387.54M330.69 387.54H333.29" stroke="#707070" stroke-width="0.7" fill="none"/>
<line x1="328.74" y1="385.34" x2="337.84" y2="385.34" stroke="#555" stroke-width="0.8"/>
<text x="333.44" y="384.64" font-size="5.6" text-anchor="middle" fill="#111" font-weight="bold">*</text>
<rect x="346.22" y="440.93" width="3.05" height="47.87" fill="#fff" stroke="#2a2a2a" stroke-width="0.55"/>
<rect x="346.32" y="428.23" width="1.6" height="12.7" fill="#dadada"/>
<path d="M347.82 440.93V428.23M346.02 428.23H348.62" stroke="#777" stroke-width="0.5" fill="none"/>
<rect x="342.52" y="426.39" width="3.7" height="62.41" fill="#000"/>
<path d="M344.38 426.39V413.5M343.07 413.5H345.68" stroke="#707070" stroke-width="0.7" fill="none"/>
<rect x="358.61" y="438.54" width="3.05" height="50.26" fill="#fff" stroke="#2a2a2a" stroke-width="0.55"/>
<rect x="358.71" y="426.39" width="1.6" height="12.15" fill="#dadada"/>
<path d="M360.21 438.54V426.39M358.41 426.39H361.01" stroke="#777" stroke-width="0.5" fill="none"/>
<rect x="354.91" y="426.39" width="3.7" height="62.41" fill="#000"/>
<path d="M356.76 426.39V413.5M355.46 413.5H358.06" stroke="#707070" stroke-width="0.7" fill="none"/>
<line x1="32.9" y1="488.8" x2="360.6" y2="488.8" stroke="#999" stroke-width="0.9"/>
<line x1="32.9" y1="396.75" x2="363" y2="396.75" stroke="#222" stroke-width="1.1" stroke-dasharray="6.2 3.05"/>
<text transform="translate(37 496) scale(1 0.91) rotate(-45)" font-size="4.84" text-anchor="end" fill="#000" stroke="#000" stroke-width="0.12">ABDOMINAL PAIN</text>
<text transform="translate(49.38 496) scale(1 0.91) rotate(-45)" font-size="4.84" text-anchor="end" fill="#000" stroke="#000" stroke-width="0.12">RETROSTERNAL BURNER</text>
<text transform="translate(61.77 496) scale(1 0.91) rotate(-45)" font-size="4.84" text-anchor="end" fill="#000" stroke="#000" stroke-width="0.12">ACID REGURGITATION</text>
<text transform="translate(74.16 496) scale(1 0.91) rotate(-45)" font-size="4.84" text-anchor="end" fill="#000" stroke="#000" stroke-width="0.12">BLOATING</text>
<text transform="translate(86.54 496) scale(1 0.91) rotate(-45)" font-size="4.84" text-anchor="end" fill="#000" stroke="#000" stroke-width="0.12">NAUSEA</text>
<text transform="translate(98.92 496) scale(1 0.91) rotate(-45)" font-size="4.84" text-anchor="end" fill="#000" stroke="#000" stroke-width="0.12">VOMITING</text>
<text transform="translate(111.31 496) scale(1 0.91) rotate(-45)" font-size="4.84" text-anchor="end" fill="#000" stroke="#000" stroke-width="0.12">BORBORYGMUS</text>
<text transform="translate(123.7 496) scale(1 0.91) rotate(-45)" font-size="4.84" text-anchor="end" fill="#000" stroke="#000" stroke-width="0.12">ABDOMINAL DISTENSION</text>
<text transform="translate(136.08 496) scale(1 0.91) rotate(-45)" font-size="4.84" text-anchor="end" fill="#000" stroke="#000" stroke-width="0.12">ERUCTATION</text>
<text transform="translate(148.47 496) scale(1 0.91) rotate(-45)" font-size="4.84" text-anchor="end" fill="#000" stroke="#000" stroke-width="0.12">INCREASED FLATUS</text>
<text transform="translate(160.85 496) scale(1 0.91) rotate(-45)" font-size="4.84" text-anchor="end" fill="#000" stroke="#000" stroke-width="0.12">INCREASE OF EVACUATIONS</text>
<text transform="translate(173.23 496) scale(1 0.91) rotate(-45)" font-size="4.84" text-anchor="end" fill="#000" stroke="#000" stroke-width="0.12">DECREASE OF EVACUATIONS</text>
<text transform="translate(185.62 496) scale(1 0.91) rotate(-45)" font-size="4.84" text-anchor="end" fill="#000" stroke="#000" stroke-width="0.12">LOOSE STOOLS</text>
<text transform="translate(198 496) scale(1 0.91) rotate(-45)" font-size="4.84" text-anchor="end" fill="#000" stroke="#000" stroke-width="0.12">HARD STOOLS</text>
<text transform="translate(210.39 496) scale(1 0.91) rotate(-45)" font-size="4.84" text-anchor="end" fill="#000" stroke="#000" stroke-width="0.12">URGENT NEED FOR DEFECATION</text>
<text transform="translate(222.78 496) scale(1 0.91) rotate(-45)" font-size="4.84" text-anchor="end" fill="#000" stroke="#000" stroke-width="0.12">DERMATITIS</text>
<text transform="translate(235.16 496) scale(1 0.91) rotate(-45)" font-size="4.84" text-anchor="end" fill="#000" stroke="#000" stroke-width="0.12">HEADACHE</text>
<text transform="translate(247.54 496) scale(1 0.91) rotate(-45)" font-size="4.84" text-anchor="end" fill="#000" stroke="#000" stroke-width="0.12">FOGGY MIND</text>
<text transform="translate(259.93 496) scale(1 0.91) rotate(-45)" font-size="4.84" text-anchor="end" fill="#000" stroke="#000" stroke-width="0.12">FATIGUE</text>
<text transform="translate(272.31 496) scale(1 0.91) rotate(-45)" font-size="4.84" text-anchor="end" fill="#000" stroke="#000" stroke-width="0.12">NUMBNESS OF THE LIMBS</text>
<text transform="translate(284.7 496) scale(1 0.91) rotate(-45)" font-size="4.84" text-anchor="end" fill="#000" stroke="#000" stroke-width="0.12">MUSCLE PAINS</text>
<text transform="translate(297.08 496) scale(1 0.91) rotate(-45)" font-size="4.84" text-anchor="end" fill="#000" stroke="#000" stroke-width="0.12">JOINT PAINS</text>
<text transform="translate(309.47 496) scale(1 0.91) rotate(-45)" font-size="4.84" text-anchor="end" fill="#000" stroke="#000" stroke-width="0.12">FAINTING</text>
<text transform="translate(321.85 496) scale(1 0.91) rotate(-45)" font-size="4.84" text-anchor="end" fill="#000" stroke="#000" stroke-width="0.12">ORAL ULCERS</text>
<text transform="translate(334.24 496) scale(1 0.91) rotate(-45)" font-size="4.84" text-anchor="end" fill="#000" stroke="#000" stroke-width="0.12">PELVIC PAIN</text>
<text transform="translate(346.62 496) scale(1 0.91) rotate(-45)" font-size="4.84" text-anchor="end" fill="#000" stroke="#000" stroke-width="0.12">DISMENORREA</text>
<text transform="translate(359.01 496) scale(1 0.91) rotate(-45)" font-size="4.84" text-anchor="end" fill="#000" stroke="#000" stroke-width="0.12">DISPAREUNIA</text>
</g>
</svg>
</body></html>
